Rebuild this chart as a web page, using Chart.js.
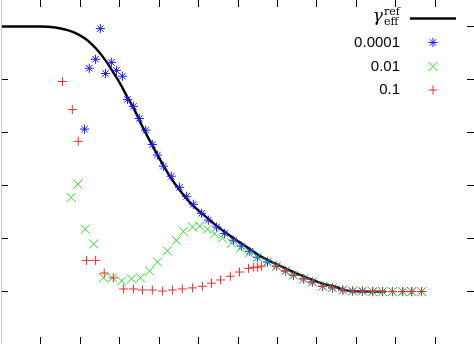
<!DOCTYPE html>
<html>
<head>
<meta charset="utf-8">
<script src="https://cdn.jsdelivr.net/npm/chart.js@4.4.0/dist/chart.umd.min.js"></script>
<style>
  html, body { margin: 0; padding: 0; background: #fff; }
</style>
</head>
<body>
<canvas id="myChart" width="474" height="345"></canvas>
<script>
// reference curve gamma_eff^ref
const refX = [0, 1.0, 1.38, 1.69, 1.96, 2.22, 2.45, 2.65, 2.85, 3.03, 3.21, 3.39, 3.56, 3.74, 3.92, 4.10, 4.30, 4.55, 4.81, 5.06, 5.44, 5.82, 6.20, 6.58, 7.09, 7.60, 8.11, 8.49, 8.87, 9.76];
const refY = [6.00, 6.00, 5.98, 5.93, 5.85, 5.72, 5.55, 5.36, 5.13, 4.91, 4.66, 4.42, 4.15, 3.89, 3.64, 3.40, 3.15, 2.89, 2.66, 2.49, 2.25, 2.04, 1.85, 1.66, 1.47, 1.30, 1.15, 1.08, 1.00, 0.99];

// 0.0001
const xA = [2.12, 2.24, 2.40, 2.52, 2.65, 2.80, 2.93, 3.08, 3.21, 3.36, 3.51, 3.67, 3.84, 3.97, 4.12, 4.32, 4.53, 4.71, 4.88, 5.09, 5.26, 5.47, 5.67, 5.90, 6.10, 6.31, 6.51, 6.76, 6.99, 7.22, 7.42, 7.68, 7.90, 8.16, 8.41, 8.67, 8.92, 9.17, 9.43, 9.68, 9.93, 10.19, 10.42, 10.67];
const yA = [4.06, 5.21, 5.38, 5.96, 5.11, 5.32, 5.17, 5.06, 4.62, 4.49, 4.26, 4.04, 3.77, 3.57, 3.36, 3.17, 2.96, 2.79, 2.64, 2.47, 2.34, 2.21, 2.09, 1.96, 1.85, 1.75, 1.64, 1.55, 1.47, 1.38, 1.30, 1.23, 1.17, 1.09, 1.06, 1.02, 1.00, 1.00, 0.99, 0.99, 0.99, 0.99, 0.99, 0.99];

// 0.01
const xB = [1.78, 1.95, 2.14, 2.35, 2.60, 2.83, 3.06, 3.31, 3.54, 3.77, 3.97, 4.22, 4.45, 4.63, 4.86, 5.04, 5.24, 5.42, 5.62, 5.85, 6.08, 6.30, 6.51, 6.76, 6.99, 7.22, 7.42, 7.68, 7.90, 8.16, 8.41, 8.67, 8.92, 9.17, 9.43, 9.68, 9.93, 10.19, 10.42, 10.67];
const yB = [2.77, 3.02, 2.17, 1.89, 1.25, 1.25, 1.19, 1.23, 1.25, 1.38, 1.55, 1.76, 1.96, 2.13, 2.21, 2.23, 2.17, 2.08, 2.00, 1.91, 1.81, 1.72, 1.64, 1.55, 1.47, 1.38, 1.30, 1.23, 1.17, 1.09, 1.06, 1.02, 1.00, 1.00, 0.99, 0.99, 0.99, 0.99, 0.99, 0.99];

// 0.1
const xC = [1.56, 1.81, 1.96, 2.17, 2.40, 2.62, 2.85, 3.11, 3.36, 3.59, 3.84, 4.10, 4.35, 4.60, 4.86, 5.11, 5.34, 5.57, 5.82, 6.05, 6.28, 6.41, 6.51, 6.61, 6.99, 7.22, 7.42, 7.68, 7.90, 8.16, 8.41, 8.67, 8.92, 9.17, 9.43, 9.68, 9.93, 10.19, 10.42, 10.67];
const yC = [4.96, 4.43, 3.83, 1.58, 1.58, 1.34, 1.25, 1.04, 1.04, 1.02, 1.02, 1.00, 1.02, 1.04, 1.06, 1.09, 1.15, 1.21, 1.28, 1.36, 1.43, 1.45, 1.45, 1.47, 1.47, 1.38, 1.30, 1.23, 1.17, 1.09, 1.06, 1.02, 1.00, 1.00, 0.99, 0.99, 0.99, 0.99, 0.99, 0.99];

const seriesLabels = ["0.0001", "0.01", "0.1"];
const xTicks = [1, 2, 3, 4, 5, 6, 7, 8, 9, 10, 11];
const yTicks = [1, 2, 3, 4, 5, 6];

const pts = (xs, ys) => xs.map((x, i) => ({ x: x, y: ys[i] }));

// gnuplot style: ticks pointing into the frame on all four sides
const frameTicks = {
  id: "frameTicks",
  afterDatasetsDraw(chart) {
    const ctx = chart.ctx;
    const a = chart.chartArea;
    const sx = chart.scales.x, sy = chart.scales.y;
    ctx.save();
    ctx.lineWidth = 1;
    ctx.strokeStyle = "#000";
    ctx.beginPath();
    xTicks.forEach((v) => {
      const px = Math.round(sx.getPixelForValue(v)) + 0.5;
      ctx.moveTo(px, a.top); ctx.lineTo(px, a.top + 7);
      ctx.moveTo(px, a.bottom); ctx.lineTo(px, a.bottom - 7);
    });
    yTicks.forEach((v) => {
      const py = Math.round(sy.getPixelForValue(v)) + 0.5;
      ctx.moveTo(a.left, py); ctx.lineTo(a.left + 7, py);
      ctx.moveTo(a.right, py); ctx.lineTo(a.right - 7, py);
    });
    ctx.stroke();
    ctx.strokeStyle = "#c8c8c8";
    ctx.beginPath();
    ctx.moveTo(a.left + 0.5, a.top); ctx.lineTo(a.left + 0.5, a.bottom);
    ctx.stroke();
    ctx.restore();
  },
};

// key in the upper right: label right aligned, sample to its right
const keyBox = {
  id: "keyBox",
  afterDraw(chart) {
    const ctx = chart.ctx;
    const ds = chart.data.datasets;
    const rows = [42.5, 66.5, 90];
    ctx.save();
    ctx.fillStyle = "#000";
    ctx.font = "italic 17px 'DejaVu Serif'";
    ctx.textAlign = "right";
    ctx.textBaseline = "alphabetic";
    ctx.fillText("\u03b3", 383, 21);
    ctx.font = "11px 'DejaVu Serif'";
    ctx.textAlign = "left";
    ctx.fillText("ref", 384, 15);
    ctx.fillText("eff", 384, 25);
    ctx.strokeStyle = ds[0].borderColor;
    ctx.lineWidth = ds[0].borderWidth;
    ctx.beginPath();
    ctx.moveTo(410, 18.5); ctx.lineTo(456, 18.5);
    ctx.stroke();
    ctx.font = "15px 'Liberation Sans', Arial, sans-serif";
    ctx.textAlign = "right";
    ctx.textBaseline = "middle";
    for (let i = 1; i < ds.length; i++) {
      const d = ds[i];
      const y = rows[i - 1];
      ctx.fillStyle = "#000";
      ctx.fillText(d.label, 400, y);
      ctx.strokeStyle = d.borderColor;
      ctx.fillStyle = d.borderColor;
      ctx.lineWidth = d.borderWidth;
      Chart.helpers.drawPoint(ctx, { pointStyle: d.pointStyle, radius: d.pointRadius, borderWidth: d.borderWidth }, 433, y);
    }
    ctx.restore();
  },
};

const markerSet = (label, xs, ys, color, style, r, order) => ({
  type: "scatter",
  label: label,
  data: pts(xs, ys),
  showLine: false,
  pointStyle: style,
  pointRadius: r,
  pointHoverRadius: r,
  borderColor: color,
  backgroundColor: color,
  pointBorderColor: color,
  borderWidth: 1,
  pointBorderWidth: 1,
  order: order,
});

const grafica = new Chart(document.getElementById("myChart").getContext("2d"), {
  type: "scatter",
  data: {
    datasets: [
      {
        type: "line",
        label: "ref",
        data: pts(refX, refY),
        borderColor: "#000",
        borderWidth: 2.4,
        pointRadius: 0,
        cubicInterpolationMode: "monotone",
        fill: false,
        order: 4,
      },
      markerSet(seriesLabels[0], xA, yA, "#1a1aff", "star", 4.6, 3),
      markerSet(seriesLabels[1], xB, yB, "#22dd22", "crossRot", 6.4, 2),
      markerSet(seriesLabels[2], xC, yC, "#ff2a2a", "cross", 4.5, 1),
    ],
  },
  options: {
    responsive: false,
    animation: false,
    devicePixelRatio: 1,
    layout: { autoPadding: false, padding: { left: 1, right: 0, top: 0, bottom: 1 } },
    plugins: { legend: { display: false }, tooltip: { enabled: false } },
    scales: {
      x: { type: "linear", min: 0, max: 12, display: false },
      y: { type: "linear", min: 0, max: 6.5, display: false },
    },
  },
  plugins: [frameTicks, keyBox],
});
</script>
</body>
</html>
